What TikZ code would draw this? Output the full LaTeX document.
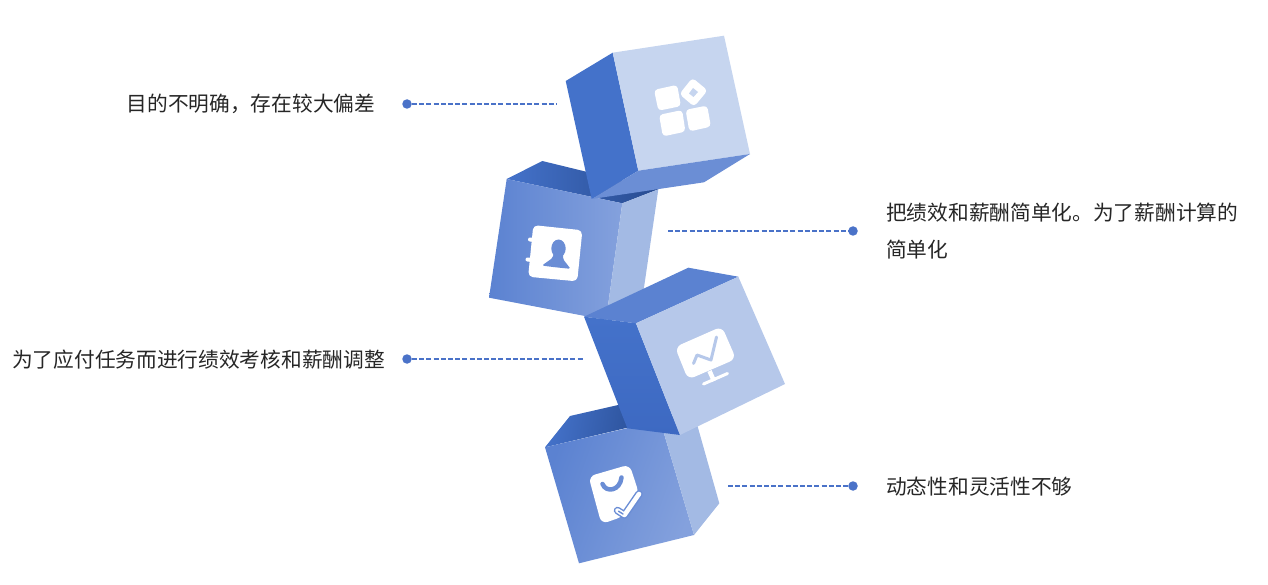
\documentclass[tikz,border=0pt]{standalone}
\usepackage{fontspec}
\setmainfont{Noto Sans CJK SC}
\definecolor{ink}{HTML}{262626}
\definecolor{linkblue}{HTML}{4A72C8}
\definecolor{leftblue}{HTML}{4472CA}
\definecolor{midblue}{HTML}{5B82D1}
\definecolor{lightblue}{HTML}{84A1DD}
\definecolor{sideblue}{HTML}{A3BAE4}
\definecolor{darkblue}{HTML}{274B90}
\definecolor{paleone}{HTML}{C6D5EF}
\definecolor{underone}{HTML}{6B8ED5}
\definecolor{palethree}{HTML}{B6C8EA}
\definecolor{deepleft}{HTML}{3D69C2}
\definecolor{iconblue}{HTML}{6A8DD5}
\tikzset{
  label text/.style={text=ink,font=\fontsize{20.7}{37}\selectfont,inner sep=0pt,anchor=west,align=left},
  link dot/.style={circle,fill=linkblue,draw=none,minimum size=9.5pt,inner sep=0pt},
  link/.style={draw=linkblue,line width=2pt,dash pattern=on 5pt off 2.2pt},
  icon/.style={fill=white,draw=white,line width=1.6pt,line join=round,rounded corners=3pt},
}
\begin{document}
\begin{tikzpicture}[x=1pt,y=-1pt]
\useasboundingbox (0,0) rectangle (1268,585);
% cube 4
\shade[left color=leftblue,right color=darkblue,shading angle=80] (545,447.3) -- (570,416) -- (640,400) -- (660,420) -- cycle;
\shade[left color=midblue,right color=lightblue,shading angle=70] (545,447.3) -- (626.7,428.3) -- (660,420) -- (694,535) -- (579,563.3) -- cycle;
\fill[sideblue] (660,420) -- (693,410) -- (719.3,503.3) -- (694,535) -- cycle;
% icon 4
\fill[icon,rounded corners=6pt] (589.5,477) -- (629,465.5) -- (638,493) -- (622,516) -- (602,523) -- cycle;
\draw[iconblue,line width=4.5pt,line cap=round] (602.5,484) .. controls (606,493) and (620,491) .. (621.5,477.5);
\draw[iconblue,line width=7.5pt,line cap=round,line join=round] (617.5,510.5) -- (624.5,515) -- (639,494);
\draw[white,line width=4.6pt,line cap=round,line join=round] (617.5,510.5) -- (624.5,515) -- (639,494);
\draw[iconblue,line width=1.4pt,line cap=round] (618.5,511.2) -- (623,514);
% cube 2
\shade[left color=leftblue,right color=darkblue] (506.7,179) -- (542.3,161) -- (658.3,189.3) -- (622.3,203.3) -- cycle;
\shade[left color=midblue,right color=lightblue] (506.7,179) -- (622.3,203.3) -- (606,320) -- (489,297.7) -- cycle;
\fill[sideblue] (622.3,203.3) -- (658.3,189.3) -- (640,315) -- (606,320) -- cycle;
% icon 2
\fill[icon,rounded corners=4pt] (534,226) -- (581.5,231) -- (576.5,280.5) -- (529,276) -- cycle;
\draw[white,line width=4pt,line cap=round] (530,239.5) -- (538,240.5);
\draw[white,line width=4pt,line cap=round] (527.5,259.5) -- (536,260.5);
\fill[iconblue] (558.5,248.5) ellipse[x radius=7.2pt,y radius=9pt];
\fill[iconblue,rounded corners=1.5pt] (553.5,254) -- (552.5,258) -- (542,265.5) .. controls (552,267) and (562,268) .. (570.5,268.8) -- (563,259) -- (563,254) -- cycle;
% cube 1
\fill[leftblue] (565.7,81) -- (612.7,52.7) -- (638.3,170.7) -- (591.7,199) -- cycle;
\fill[paleone] (612.7,52.7) -- (724,35.7) -- (750,154) -- (638.3,170.7) -- cycle;
\fill[underone] (638.3,170.7) -- (750,154) -- (704,182.3) -- (591.7,199) -- cycle;
% icon 1
\fill[icon] (655,90.5) -- (676.5,85.8) -- (680,105.5) -- (659,109.8) -- cycle;
\fill[icon] (660,115.5) -- (681.5,111) -- (684.5,131) -- (663.5,135.5) -- cycle;
\fill[icon] (686.5,110.5) -- (706.5,106.5) -- (710,126) -- (690,130.5) -- cycle;
\fill[icon] (692.5,79) -- (706.5,90.5) -- (694,105.5) -- (680.5,94) -- cycle;
\fill[paleone] (693,88) -- (698,92) -- (693.5,97) -- (689,93.5) -- cycle;
% cube 3
\fill[midblue] (584,316.7) -- (688.3,267.7) -- (738.3,276.7) -- (636,323.3) -- cycle;
\shade[top color=leftblue,bottom color=deepleft] (584,316.7) -- (636,323.3) -- (680,435) -- (627.3,428.3) -- cycle;
\fill[palethree] (636,323.3) -- (738.3,276.7) -- (785,384) -- (680,435) -- cycle;
% icon 3
\fill[icon,rounded corners=6pt] (676,347.5) -- (721.5,327.5) -- (735,358.5) -- (688.5,378.5) -- cycle;
\draw[white,line width=4.5pt] (709.5,371) -- (714,381);
\draw[white,line width=3pt,line cap=round] (703.5,384) -- (727.5,373.5);
\draw[palethree,line width=3pt,line cap=round,line join=round] (693.5,363.5) -- (697,355) -- (711,360) -- (716.5,337);
% connectors
\node[link dot] (d1) at (407,104) {};
\coordinate (e1) at (556,104);
\draw[link] (d1) -- (e1);
\node[link dot] (d2) at (853,231) {};
\coordinate (e2) at (668,231);
\draw[link] (e2) -- (d2);
\node[link dot] (d3) at (407,359) {};
\coordinate (e3) at (584,359);
\draw[link] (d3) -- (e3);
\node[link dot] (d4) at (853,486) {};
\coordinate (e4) at (728,486);
\draw[link] (e4) -- (d4);
% labels
\node[label text] (t1) at (126.5,104) {目的不明确，存在较大偏差};
\node[label text] (t2) at (886,231.5) {把绩效和薪酬简单化。为了薪酬计算的\\简单化};
\node[label text] (t3) at (12,360) {为了应付任务而进行绩效考核和薪酬调整};
\node[label text] (t4) at (886,486.5) {动态性和灵活性不够};
\end{tikzpicture}
\end{document}
